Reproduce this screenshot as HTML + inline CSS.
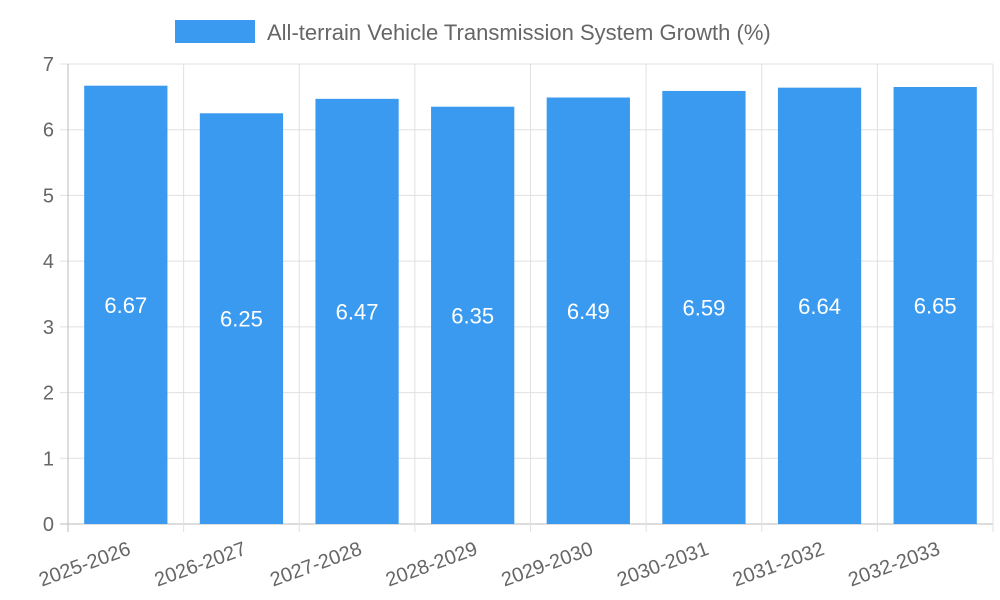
<!DOCTYPE html>
<html><head><meta charset="utf-8"><style>
body{margin:0;background:#fff;}
svg{display:block;font-family:"Liberation Sans",Arial,sans-serif;}
</style></head><body>
<svg id="chart" width="1000" height="600">
<g>
<rect x="175" y="20" width="80" height="23" fill="#3a9af0"/>
<text x="267" y="40" font-size="22" fill="#666">All-terrain Vehicle Transmission System Growth (%)</text>
</g>
<g id="grid"></g><g id="bars"></g><g id="axes"></g>
</svg>
<script>
const categories=["2025-2026","2026-2027","2027-2028","2028-2029","2029-2030","2030-2031","2031-2032","2032-2033"];
const values=[6.67,6.25,6.47,6.35,6.49,6.59,6.64,6.65];
const yTicks=[0,1,2,3,4,5,6,7];
const NS="http://www.w3.org/2000/svg";
const L=68,R=993,T=64,B=524,yMax=7;
const band=(R-L)/categories.length;
const y=v=>B-(v/yMax)*(B-T);
const xc=i=>L+band*(i+0.5);
function mk(tag,attrs,parent,txt){const e=document.createElementNS(NS,tag);for(const k in attrs)e.setAttribute(k,attrs[k]);if(txt!==undefined)e.textContent=txt;parent.appendChild(e);return e;}
const grid=document.getElementById('grid'),bars=document.getElementById('bars'),axes=document.getElementById('axes');
yTicks.forEach(t=>{
 const g=mk('line',{x1:L-8,x2:R,y1:y(t),y2:y(t),stroke:t===0?'#bbb':'#e0e0e0','stroke-width':1},grid);
 
 
 const tx=mk('text',{x:L-14,y:y(t)+7,'text-anchor':'end','font-size':20,fill:'#666'},axes,String(t));
 
 
});
for(let i=0;i<=categories.length;i++){
 const x=L+band*i;
 const g=mk('line',{x1:x,x2:x,y1:T,y2:B+8,stroke:i===0?'#bbb':'#e0e0e0','stroke-width':1},grid);
 
 
}
const bw=band*0.72;
categories.forEach((c,i)=>{
 const v=values[i];
 const r=mk('rect',{x:xc(i)-bw/2,y:y(v),width:bw,height:B-y(v),fill:'#3a9af0'},bars);
 
 
 const vl=mk('text',{x:xc(i),y:(y(v)+B)/2+8,'text-anchor':'middle','font-size':22,fill:'#fff'},bars,v.toFixed(2));
 
 
 const cx=xc(i)+6,cy=B+30;
 const xl=mk('text',{x:cx,y:cy,'text-anchor':'end','font-size':20,fill:'#666',transform:`rotate(-20 ${cx} ${cy})`},axes,c);
 
 
});
</script>
</body></html>
